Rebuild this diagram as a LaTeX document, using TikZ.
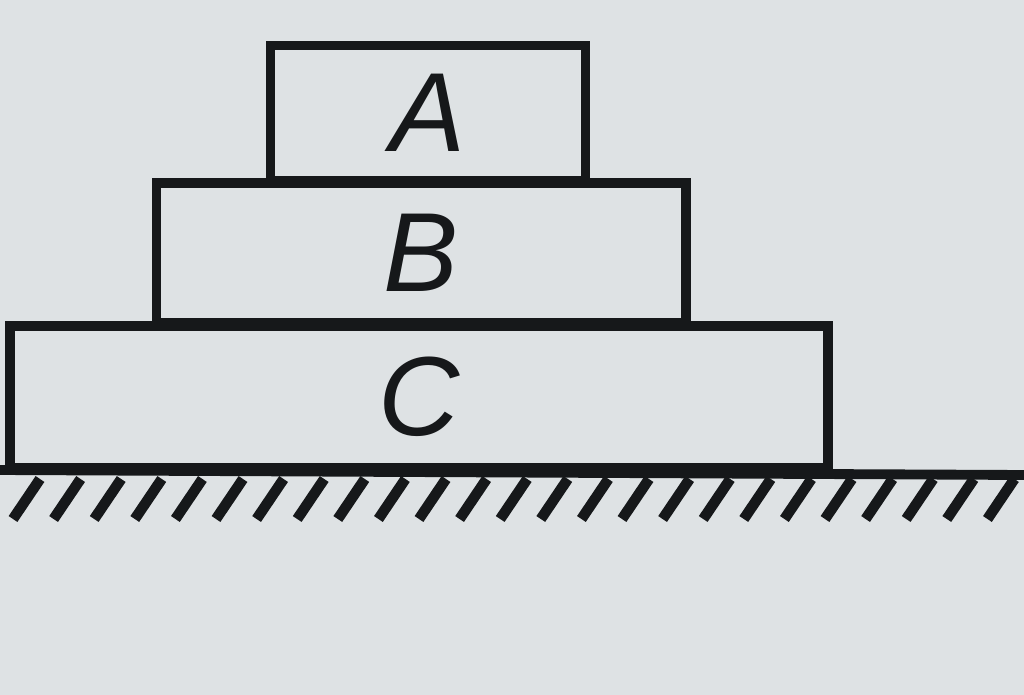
\documentclass[tikz,border=0pt]{standalone}
\usepackage{fontspec}
\setmainfont{Liberation Sans}
\definecolor{paper}{RGB}{222,226,228}
\definecolor{ink}{RGB}{22,24,26}
\begin{document}
\begin{tikzpicture}
[
 x=0.025cm, y=-0.025cm,
 every node/.style={font=\fontsize{80}{82}\selectfont\itshape, text=ink},
 BLOCK/.style={rectangle, draw=ink, line width=7pt, fill=paper, inner sep=0pt},
 HATCH/.style={draw=ink, line width=7.5pt},
 ]
%
\fill[paper] (0,0) rectangle (1024,695);
\useasboundingbox (0,0) rectangle (1024,695);
%
\coordinate (GL) at (0,470);
\coordinate (GR) at (1024,475);
\draw [HATCH, line width=7pt]  (GL) -- (GR) ;
%
\node [BLOCK, minimum width=20.45cm, minimum height=3.55cm]  (C)  at (419,397) {C};
\node [BLOCK, minimum width=13.225cm, minimum height=3.5cm]  (B)  at (421,253) {B};
\node [BLOCK, minimum width=7.875cm, minimum height=3.375cm] (A)  at (428,113) {A};
%
\foreach \k in {0,1,...,24}
  {
    \pgfmathsetmacro{\xb}{13+40.6*\k}
    \draw [HATCH]  (\xb+27,479) -- (\xb,519) ;
  }
%
\end{tikzpicture}
\end{document}
